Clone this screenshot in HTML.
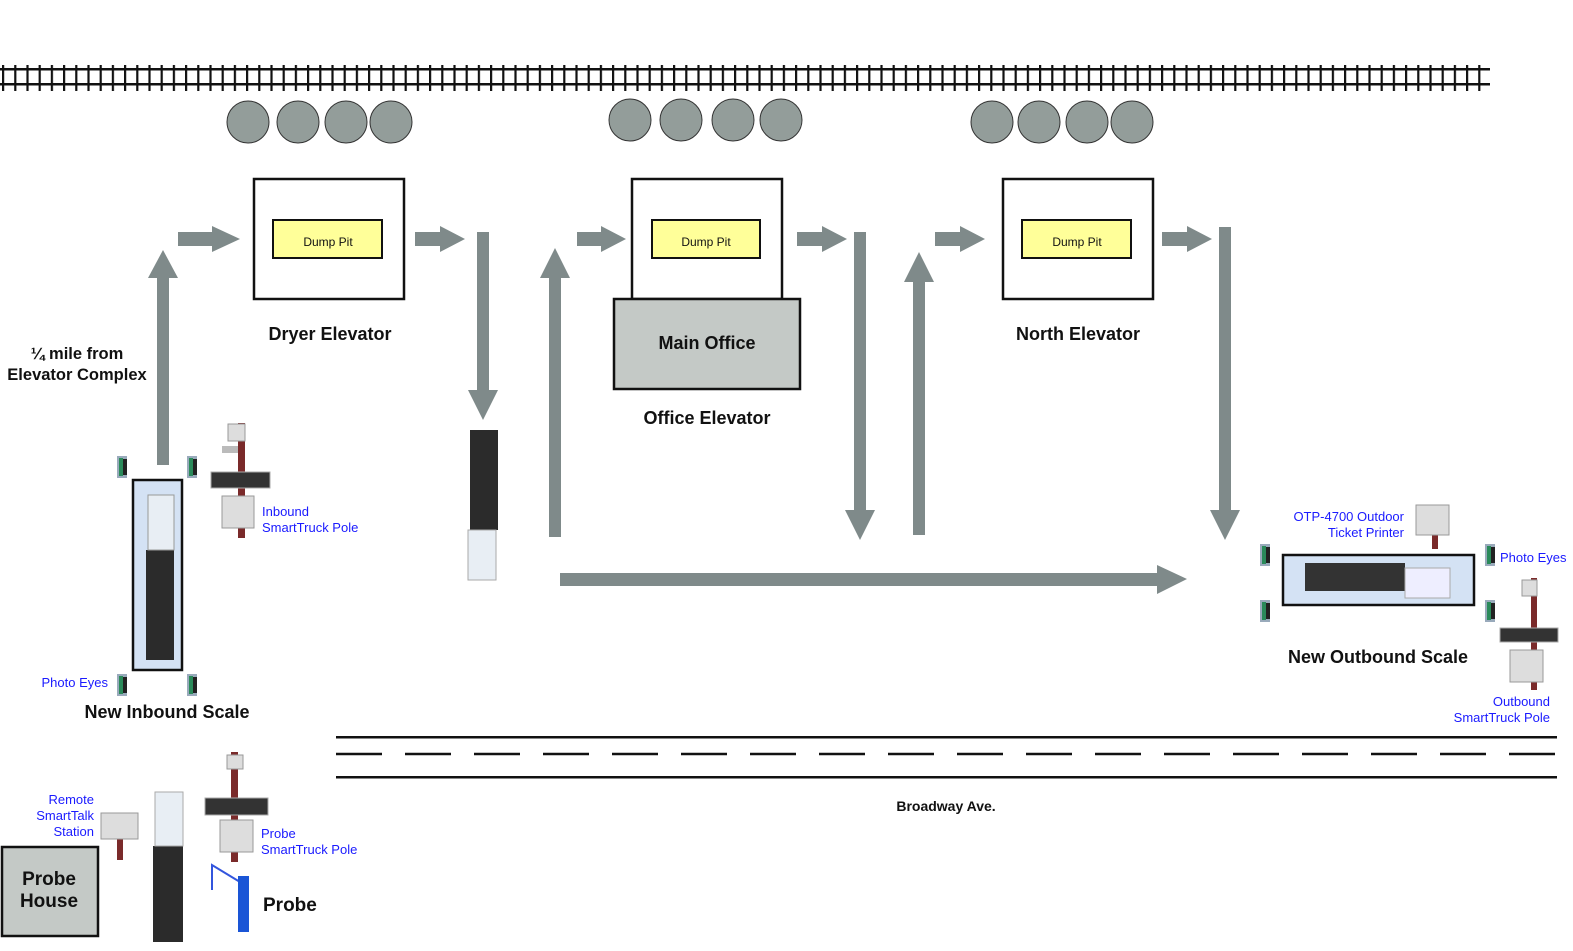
<!DOCTYPE html>
<html><head><meta charset="utf-8"><style>
html,body{margin:0;padding:0;background:#fff;}
svg{display:block;font-family:"Liberation Sans",Arial,sans-serif;}
.lbl{font-size:18px;font-weight:bold;fill:#111;}
.blue{font-size:13px;fill:#1a1aff;}
</style></head><body>
<svg width="1573" height="951" viewBox="0 0 1573 951" xmlns="http://www.w3.org/2000/svg">
<defs>
<pattern id="ties" x="2" y="0" width="12.2" height="951" patternUnits="userSpaceOnUse">
<rect x="0" y="65" width="2.2" height="26" fill="#111"/>
</pattern>
<g id="eye"><rect x="0" y="0" width="10" height="22" fill="#9ab"/><rect x="2" y="2" width="4" height="18" fill="#2a8a5a"/><rect x="6" y="3" width="4" height="16" fill="#222"/></g>
</defs>
<rect x="0" y="65" width="1490" height="26" fill="url(#ties)"/>
<rect x="0" y="68" width="1490" height="2.5" fill="#111"/>
<rect x="0" y="83" width="1490" height="2.5" fill="#111"/>
<g fill="#939d9a" stroke="#333" stroke-width="1">
<circle cx="248" cy="122" r="21"/><circle cx="298" cy="122" r="21"/><circle cx="346" cy="122" r="21"/><circle cx="391" cy="122" r="21"/>
<circle cx="630" cy="120" r="21"/><circle cx="681" cy="120" r="21"/><circle cx="733" cy="120" r="21"/><circle cx="781" cy="120" r="21"/>
<circle cx="992" cy="122" r="21"/><circle cx="1039" cy="122" r="21"/><circle cx="1087" cy="122" r="21"/><circle cx="1132" cy="122" r="21"/>
</g>
<g stroke="#111" stroke-width="2.5">
<rect x="254" y="179" width="150" height="120" fill="#fff"/>
<rect x="632" y="179" width="150" height="120" fill="#fff"/>
<rect x="1003" y="179" width="150" height="120" fill="#fff"/>
<rect x="614" y="299" width="186" height="90" fill="#c4c9c6"/>
</g>
<g stroke="#111" stroke-width="2" fill="#ffff99">
<rect x="273" y="220" width="109" height="38"/>
<rect x="652" y="220" width="108" height="38"/>
<rect x="1022" y="220" width="109" height="38"/>
</g>
<g font-size="12" text-anchor="middle" fill="#111">
<text x="328" y="246">Dump Pit</text><text x="706" y="246">Dump Pit</text><text x="1077" y="246">Dump Pit</text>
</g>
<text class="lbl" x="707" y="349" text-anchor="middle">Main Office</text>
<text class="lbl" x="330" y="340" text-anchor="middle">Dryer Elevator</text>
<text class="lbl" x="707" y="424" text-anchor="middle">Office Elevator</text>
<text class="lbl" x="1078" y="340" text-anchor="middle">North Elevator</text>
<text x="77" y="359" text-anchor="middle" font-size="16.5" font-weight="bold" fill="#111">¼ mile from</text>
<text x="77" y="380" text-anchor="middle" font-size="16.5" font-weight="bold" fill="#111">Elevator Complex</text>
<g fill="#7f8a8a">
<polygon points="178,232 212,232 212,226 240,239 212,252 212,246 178,246"/>
<polygon points="415,232 440,232 440,226 465,239 440,252 440,246 415,246"/>
<polygon points="577,232 601,232 601,226 626,239 601,252 601,246 577,246"/>
<polygon points="797,232 822,232 822,226 847,239 822,252 822,246 797,246"/>
<polygon points="935,232 960,232 960,226 985,239 960,252 960,246 935,246"/>
<polygon points="1162,232 1187,232 1187,226 1212,239 1187,252 1187,246 1162,246"/>
<polygon points="157,465 169,465 169,278 178,278 163,250 148,278 157,278"/>
<polygon points="477,232 489,232 489,390 498,390 483,420 468,390 477,390"/>
<polygon points="549,537 561,537 561,278 570,278 555,248 540,278 549,278"/>
<polygon points="854,232 866,232 866,510 875,510 860,540 845,510 854,510"/>
<polygon points="913,535 925,535 925,282 934,282 919,252 904,282 913,282"/>
<polygon points="1219,227 1231,227 1231,510 1240,510 1225,540 1210,510 1219,510"/>
<polygon points="560,573 1157,573 1157,565 1187,579 1157,594 1157,586 560,586"/>
</g>
<rect x="133" y="480" width="49" height="190" fill="#d4e2f4" stroke="#111" stroke-width="2.5"/>
<rect x="146" y="550" width="28" height="110" fill="#2b2b2b"/>
<rect x="148" y="495" width="26" height="55" fill="#e8eef4" stroke="#999"/>
<use href="#eye" x="117" y="456"/><use href="#eye" x="187" y="456"/>
<use href="#eye" x="117" y="674"/><use href="#eye" x="187" y="674"/>
<rect x="238" y="423" width="7" height="115" fill="#7a2a2a"/>
<rect x="228" y="424" width="17" height="17" fill="#ddd" stroke="#999"/>
<rect x="222" y="446" width="16" height="7" fill="#bbb"/>
<rect x="211" y="472" width="59" height="16" fill="#333" stroke="#aaa"/>
<rect x="222" y="496" width="32" height="32" fill="#ddd" stroke="#999"/>
<text class="blue" x="262" y="516">Inbound</text>
<text class="blue" x="262" y="532">SmartTruck Pole</text>
<text class="blue" x="108" y="687" text-anchor="end">Photo Eyes</text>
<text class="lbl" x="167" y="718" text-anchor="middle">New Inbound Scale</text>
<rect x="470" y="430" width="28" height="100" fill="#2b2b2b"/>
<rect x="468" y="530" width="28" height="50" fill="#e8eef4" stroke="#aaa"/>
<rect x="1283" y="555" width="191" height="50" fill="#d4e2f4" stroke="#111" stroke-width="2.5"/>
<rect x="1305" y="563" width="100" height="28" fill="#333"/>
<rect x="1405" y="568" width="45" height="30" fill="#eef" stroke="#aaa"/>
<use href="#eye" x="1260" y="544"/><use href="#eye" x="1260" y="600"/>
<use href="#eye" x="1485" y="544"/><use href="#eye" x="1485" y="600"/>
<rect x="1432" y="533" width="6" height="16" fill="#7a2a2a"/>
<rect x="1416" y="505" width="33" height="30" fill="#ddd" stroke="#999"/>
<rect x="1531" y="578" width="6" height="112" fill="#7a2a2a"/>
<rect x="1522" y="580" width="15" height="16" fill="#ddd" stroke="#999"/>
<rect x="1500" y="628" width="58" height="14" fill="#333" stroke="#aaa"/>
<rect x="1510" y="650" width="33" height="32" fill="#ddd" stroke="#999"/>
<text class="blue" x="1404" y="521" text-anchor="end">OTP-4700 Outdoor</text>
<text class="blue" x="1404" y="537" text-anchor="end">Ticket Printer</text>
<text class="blue" x="1500" y="562">Photo Eyes</text>
<text class="lbl" x="1378" y="663" text-anchor="middle">New Outbound Scale</text>
<text class="blue" x="1550" y="706" text-anchor="end">Outbound</text>
<text class="blue" x="1550" y="722" text-anchor="end">SmartTruck Pole</text>
<rect x="336" y="736" width="1221" height="2.5" fill="#111"/>
<rect x="336" y="776" width="1221" height="2.5" fill="#111"/>
<line x1="336" y1="754" x2="1557" y2="754" stroke="#111" stroke-width="2.5" stroke-dasharray="46 23"/>
<text x="946" y="811" text-anchor="middle" font-size="14" font-weight="bold" fill="#111">Broadway Ave.</text>
<rect x="2" y="847" width="96" height="89" fill="#c4c9c6" stroke="#111" stroke-width="2.5"/>
<text x="49" y="885" text-anchor="middle" font-size="19" font-weight="bold" fill="#111">Probe</text>
<text x="49" y="907" text-anchor="middle" font-size="19" font-weight="bold" fill="#111">House</text>
<text class="blue" x="94" y="804" text-anchor="end">Remote</text>
<text class="blue" x="94" y="820" text-anchor="end">SmartTalk</text>
<text class="blue" x="94" y="836" text-anchor="end">Station</text>
<rect x="117" y="838" width="6" height="22" fill="#7a2a2a"/>
<rect x="101" y="813" width="37" height="26" fill="#ddd" stroke="#999"/>
<rect x="153" y="846" width="30" height="96" fill="#2b2b2b"/>
<rect x="155" y="792" width="28" height="54" fill="#e8eef4" stroke="#aaa"/>
<rect x="231" y="752" width="7" height="110" fill="#7a2a2a"/>
<rect x="227" y="755" width="16" height="14" fill="#ddd" stroke="#999"/>
<rect x="205" y="798" width="63" height="17" fill="#333" stroke="#aaa"/>
<rect x="220" y="820" width="33" height="32" fill="#ddd" stroke="#999"/>
<text class="blue" x="261" y="838">Probe</text>
<text class="blue" x="261" y="854">SmartTruck Pole</text>
<polyline points="212,890 212,865 240,882" fill="none" stroke="#3355dd" stroke-width="2"/>
<rect x="238" y="876" width="11" height="56" fill="#1a55d6"/>
<text x="263" y="911" font-size="19" font-weight="bold" fill="#111">Probe</text>
</svg>
</body></html>
